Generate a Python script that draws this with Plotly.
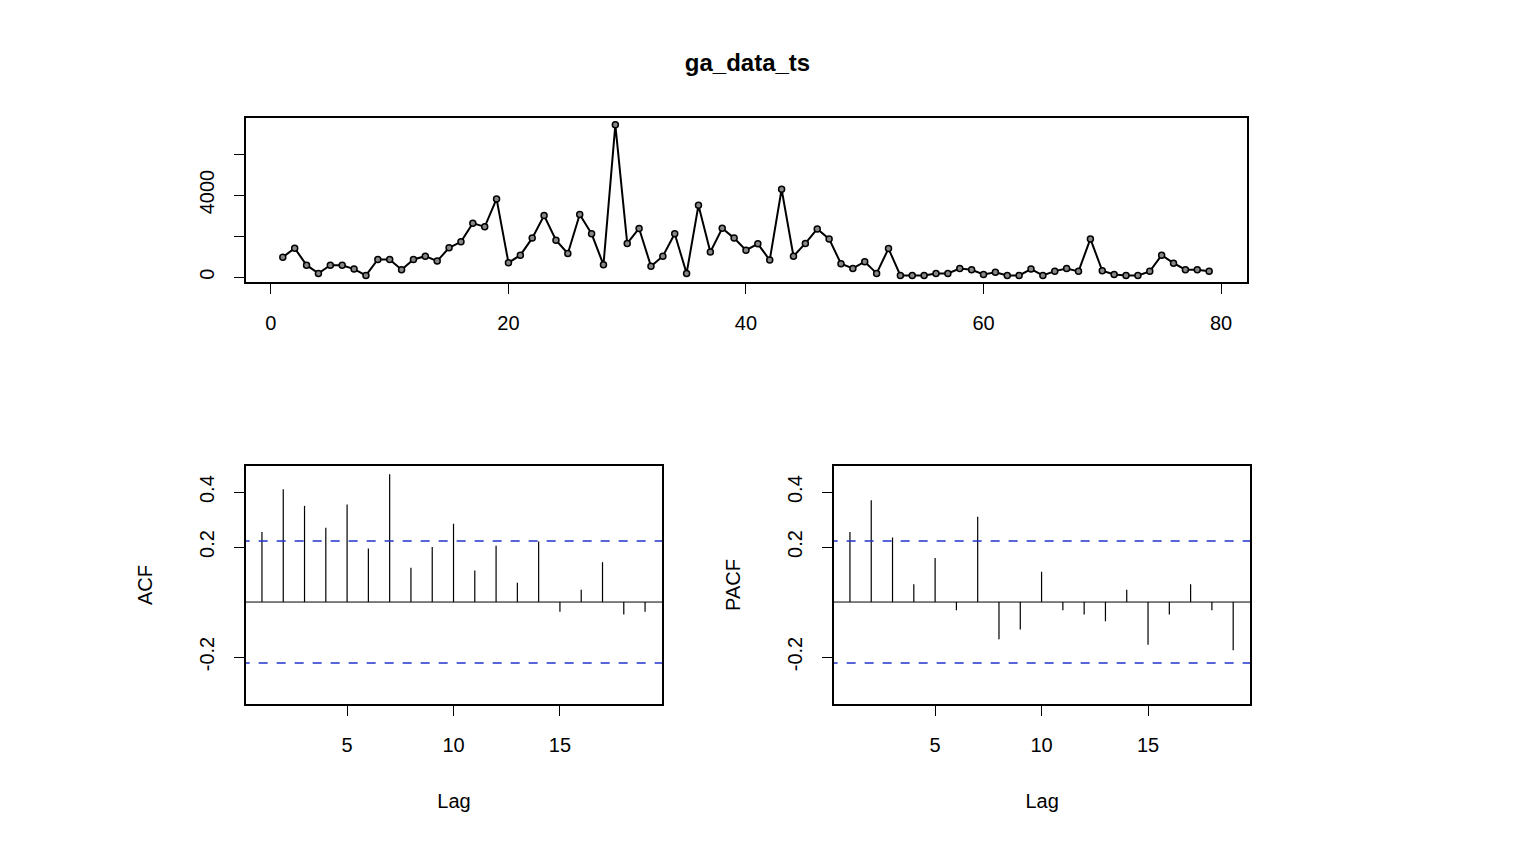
import plotly.graph_objects as go

# --- DATA ---
ts_index = list(range(1, 80))
ts_values = [970, 1410, 580, 180, 580, 580, 390, 80, 860, 860,
             360, 860, 1020, 780, 1430, 1720, 2630, 2450, 3810, 700,
             1070, 1900, 3000, 1800, 1150, 3050, 2110, 600, 7420, 1640,
             2370, 530, 1020, 2110, 180, 3500, 1220, 2380, 1900, 1310,
             1620, 830, 4280, 1020, 1640, 2350, 1860, 650, 420, 750,
             180, 1390, 80, 80, 80, 180, 180, 420, 360, 130,
             240, 80, 80, 390, 80, 290, 420, 280, 1860, 310,
             130, 80, 80, 280, 1070, 680, 360, 360, 280]
lags = list(range(1, 20))
acf_values = [0.255, 0.41, 0.35, 0.27, 0.355, 0.195, 0.465, 0.125, 0.2, 0.285,
              0.115, 0.205, 0.07, 0.22, -0.035, 0.045, 0.145, -0.045, -0.035]
pacf_values = [0.255, 0.37, 0.235, 0.065, 0.16, -0.03, 0.31, -0.135, -0.10, 0.11,
               -0.03, -0.045, -0.07, 0.045, -0.155, -0.045, 0.065, -0.03, -0.175]
ci_bound = 0.222
# ------------

FONT = dict(family="Liberation Sans, Arial", size=20, color="black")
DX = 7 / 1536   # page body margin offset
DY = 7 / 857

fig = go.Figure()

fig.add_trace(go.Scatter(
    x=ts_index, y=ts_values, mode="lines+markers",
    line=dict(color="black", width=2),
    marker=dict(size=6, color="#888", line=dict(color="black", width=1.5)),
    xaxis="x", yaxis="y", showlegend=False))

def stems(lag_list, vals, xa, ya):
    xs, ys = [], []
    for l, v in zip(lag_list, vals):
        xs += [l, l, None]
        ys += [0, v, None]
    fig.add_trace(go.Scatter(x=xs, y=ys, mode="lines",
                             line=dict(color="black", width=1.2),
                             xaxis=xa, yaxis=ya, showlegend=False))
    for b in (ci_bound, -ci_bound):
        fig.add_trace(go.Scatter(x=[0, 21], y=[b, b], mode="lines",
                                 line=dict(color="#2233cc", width=1.5, dash="dash"),
                                 xaxis=xa, yaxis=ya, showlegend=False))
    fig.add_trace(go.Scatter(x=[0, 21], y=[0, 0], mode="lines",
                             line=dict(color="black", width=1),
                             xaxis=xa, yaxis=ya, showlegend=False))

stems(lags, acf_values, "x2", "y2")
stems(lags, pacf_values, "x3", "y3")

ax = dict(showline=True, mirror=True, linecolor="black", linewidth=1.5,
          ticks="outside", ticklen=10, tickcolor="black", showgrid=False,
          zeroline=False, tickfont=FONT, ticklabelstandoff=12)

def xd(a, b):
    return [a - DX, b - DX - 0.0012]

def yd(a, b):
    return [a + DY, b + DY]

fig.update_layout(
    width=1536, height=857, plot_bgcolor="white", paper_bgcolor="white",
    margin=dict(l=0, r=0, t=0, b=0),
    title=dict(text="<b>ga_data_ts</b>", x=0.486 - DX, y=0.928 + DY, xanchor="center",
               yanchor="middle", font=dict(family="Liberation Sans, Arial", size=24, color="black")),
    xaxis=dict(ax, domain=xd(0.1595, 0.8125), range=[-2.1, 82.2],
               tickvals=[0, 20, 40, 60, 80], anchor="y"),
    yaxis=dict(ax, domain=yd(0.672, 0.8635), range=[-244, 7756],
               tickvals=[0, 2000, 4000, 6000], ticktext=["0", "", "4000", ""],
               tickangle=-90, anchor="x"),
    xaxis2=dict(ax, domain=xd(0.1595, 0.4316), range=[0.25, 19.8],
                tickvals=[5, 10, 15], anchor="y2",
                title=dict(text="Lag", font=FONT, standoff=39)),
    yaxis2=dict(ax, domain=yd(0.1797, 0.4574), range=[-0.371, 0.495],
                tickvals=[-0.2, 0.2, 0.4], ticktext=["-0.2", "0.2", "0.4"],
                tickangle=-90, anchor="x2",
                title=dict(text="ACF", font=FONT, standoff=38)),
    xaxis3=dict(ax, domain=xd(0.5423, 0.8145), range=[0.25, 19.8],
                tickvals=[5, 10, 15], anchor="y3",
                title=dict(text="Lag", font=FONT, standoff=39)),
    yaxis3=dict(ax, domain=yd(0.1797, 0.4574), range=[-0.371, 0.495],
                tickvals=[-0.2, 0.2, 0.4], ticktext=["-0.2", "0.2", "0.4"],
                tickangle=-90, anchor="x3",
                title=dict(text="PACF", font=FONT, standoff=38)),
)

fig.write_html("out.html")
